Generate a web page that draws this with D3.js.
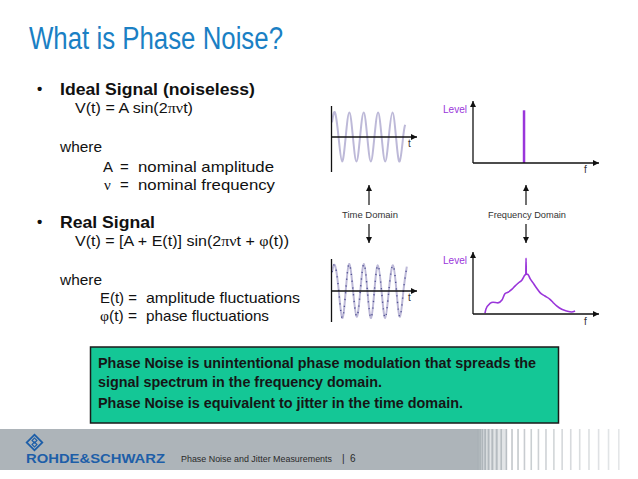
<!DOCTYPE html>
<html>
<head>
<meta charset="utf-8">
<script src="https://cdn.jsdelivr.net/npm/d3@7"></script>
<style>
  html, body { margin: 0; padding: 0; background: #fff; }
  svg { display: block; font-family: "Liberation Sans", Arial, sans-serif; }
</style>
</head>
<body>
<div id="wrapper"></div>
<script>
// 1. Data

// ideal signal: peaks, zero crossings and troughs, in units of amplitude
const idealWaveT = [0, 3.5, 7.7, 11.9, 16.1, 20.4, 24.6, 28.8, 33.0, 37.3, 41.5, 45.7, 49.9, 54.2, 58.4, 62.6, 66.8, 71.1, 75.3, 79.5, 83.7, 86];
const idealWaveV = [0.6, 1, 0, -1, 0, 1, 0, -1, 0, 1, 0, -1, 0, 1, 0, -1, 0, 1, 0, -1, 0, 0.5];

// real signal: same carrier with amplitude / phase wobble
const realWaveT = [0, 3.5, 7.8, 12, 16, 20, 24.5, 29, 33.3, 37.6, 41.8, 46, 50, 54, 58.3, 62.6, 67, 71.8, 76, 80, 84, 88];
const realWaveV = [0.7, 0.95, 0.05, -1, -0.05, 1.0, 0.1, -0.95, 0, 1.0, -0.05, -1.0, 0.05, 0.95, 0, -1.0, 0.05, 0.95, -0.05, -0.95, 0, 0.9];

// ideal spectrum: one line
const carrierFreq = [40.5];
const carrierLevel = [85];

// real spectrum: carrier plus noise skirt
const spectrumFreq = [9.5, 10.3, 13.5, 15.9, 19.8, 23, 25.4, 27.8, 31, 33.3, 35.7, 38.9, 41.3, 41.9, 42.1, 42.3, 43.9, 45.2, 47.9, 50.6, 53.2, 57.1, 61.1, 63.7, 66.4, 70.4, 74.4, 78.3, 81];
const spectrumLevel = [1.5, 8, 17, 19, 18, 22.5, 33, 35, 40, 45, 49.5, 55, 63, 64, 90, 65, 63, 57.5, 49.5, 41.5, 34.5, 29, 23.7, 18.2, 13, 7.6, 4.8, 3.2, 4.8];

// texts
const title = "What is Phase Noise?";
const boxLines = [
	"Phase Noise is unintentional phase modulation that spreads the",
	"signal spectrum in the frequency domain.",
	"Phase Noise is equivalent to jitter in the time domain."
];
const footerText = "Phase Noise and Jitter Measurements";
const pageNumber = "6";

// 2. Canvas

const width = 638;
const height = 479;

const svg = d3.select("#wrapper")
	.append("svg")
	.attr("width", width)
	.attr("height", height);

const defs = svg.append("defs");
defs.append("marker")
	.attr("id", "arrow")
	.attr("viewBox", "0 0 10 10")
	.attr("refX", 10)
	.attr("refY", 5)
	.attr("markerWidth", 7)
	.attr("markerHeight", 6)
	.attr("markerUnits", "userSpaceOnUse")
	.attr("orient", "auto")
	.append("path")
	.attr("d", "M0,0 L10,5 L0,10 z")
	.attr("fill", "#111");

// text helper: greek letters get a serif face
function addText(parent, x, y, str, opts = {}) {
	const t = parent.append("text")
		.attr("x", x)
		.attr("y", y)
		.attr("font-size", opts.size || 15)
		.attr("font-weight", opts.weight || "normal")
		.attr("fill", opts.fill || "#111");
	if (opts.family) t.attr("font-family", opts.family);
	if (opts.anchor) t.attr("text-anchor", opts.anchor);
	str.split(/([πνφ])/).filter(s => s.length).forEach(s => {
		const sp = t.append("tspan").text(s);
		if (/[πνφ]/.test(s)) sp.attr("font-family", "'Liberation Serif', 'DejaVu Serif', serif");
	});
	if (opts.len) t.attr("textLength", opts.len).attr("lengthAdjust", "spacingAndGlyphs");
	return t;
}

// 3. Title

addText(svg, 29, 49, title, {
	size: 31, fill: "#1a80c4", len: 254,
	family: "'Liberation Sans Narrow', 'Liberation Sans', Arial, sans-serif"
});

// 4. Left text

const left = svg.append("g");
addText(left, 37, 94, "•", { size: 15, weight: "bold" });
addText(left, 60, 95, "Ideal Signal (noiseless)", { size: 16.5, weight: "bold", len: 195 });
addText(left, 75, 113, "V(t) = A sin(2πνt)", { len: 118 });
addText(left, 60, 152, "where", { len: 42 });
addText(left, 103, 172, "A");
addText(left, 120, 172, "=");
addText(left, 138, 172, "nominal amplitude", { len: 136 });
addText(left, 104, 190, "ν", { family: "'Liberation Serif', serif" });
addText(left, 120, 190, "=");
addText(left, 138, 190, "nominal frequency", { len: 137 });
addText(left, 37, 227, "•", { size: 15, weight: "bold" });
addText(left, 60, 228, "Real Signal", { size: 16.5, weight: "bold", len: 95 });
addText(left, 75, 246, "V(t) = [A + E(t)] sin(2πνt + φ(t))", { len: 214 });
addText(left, 60, 285, "where", { len: 42 });
addText(left, 100, 303, "E(t) =", { len: 37 });
addText(left, 146, 303, "amplitude fluctuations", { len: 154 });
addText(left, 100, 321, "φ(t) =", { len: 37 });
addText(left, 146, 321, "phase fluctuations", { len: 123 });

// 5. Time domain plots

const timeX = d3.scaleLinear().domain([0, 100]).range([332, 417]);

const timePanels = [
	{ yc: 137, amp: 24.5, top: 106, bottom: 172, t: idealWaveT, v: idealWaveV, tY: 147, jitter: false },
	{ yc: 291, amp: 27, top: 259, bottom: 322, t: realWaveT, v: realWaveV, tY: 301, jitter: true }
];

timePanels.forEach(p => {
	const y = d3.scaleLinear().domain([-1, 1]).range([p.yc + p.amp, p.yc - p.amp]);
	const g = svg.append("g");
	const pts = p.t.map((t, i) => [t, p.v[i]]);
	const line = d3.line()
		.x(d => timeX(d[0]))
		.y(d => y(d[1]))
		.curve(d3.curveNatural);

	g.append("path")
		.attr("d", line(pts))
		.attr("fill", "none")
		.attr("stroke", "#bdb9d8")
		.attr("stroke-width", 2);

	if (p.jitter) {
		g.append("path")
			.attr("d", line(pts))
			.attr("fill", "none")
			.attr("stroke", "#3d3f86")
			.attr("stroke-width", 1.4)
			.attr("stroke-dasharray", "1.2 5.5")
			.attr("opacity", 0.85);
	}

	g.append("line")
		.attr("x1", timeX(0) - 0.5).attr("x2", timeX(0) - 0.5)
		.attr("y1", p.top).attr("y2", p.bottom)
		.attr("stroke", "#111").attr("stroke-width", 1.3);
	g.append("line")
		.attr("x1", timeX(0) - 0.5).attr("x2", timeX(100))
		.attr("y1", y(0)).attr("y2", y(0))
		.attr("stroke", "#111").attr("stroke-width", 1.3)
		.attr("marker-end", "url(#arrow)");
	addText(g, 408, p.tY, "t", { size: 10, fill: "#333" });
});

// 6. Frequency domain plots

const freqX = d3.scaleLinear().domain([0, 100]).range([473, 599]);

const freqPanels = [
	{ base: 163, freq: carrierFreq, level: carrierLevel, spike: true, levelY: 113, fY: 173 },
	{ base: 314, freq: spectrumFreq, level: spectrumLevel, spike: false, levelY: 264, fY: 325 }
];

freqPanels.forEach(p => {
	const y = d3.scaleLinear().domain([0, 100]).range([p.base, p.base - 62]);
	const g = svg.append("g");

	if (p.spike) {
		g.selectAll(".carrier")
			.data(p.freq)
			.enter()
			.append("line")
			.attr("class", "carrier")
			.attr("x1", d => freqX(d)).attr("x2", d => freqX(d))
			.attr("y1", y(0)).attr("y2", (d, i) => y(p.level[i]))
			.attr("stroke", "#9a36da")
			.attr("stroke-width", 2.5);
	} else {
		const pts = p.freq.map((f, i) => [f, p.level[i]]);
		g.append("path")
			.attr("d", d3.line()
				.x(d => freqX(d[0]))
				.y(d => y(d[1]))
				.curve(d3.curveMonotoneX)(pts))
			.attr("fill", "none")
			.attr("stroke", "#9a36da")
			.attr("stroke-width", 1.6);
	}

	g.append("line")
		.attr("x1", freqX(0)).attr("x2", freqX(0))
		.attr("y1", y(0)).attr("y2", y(100))
		.attr("stroke", "#111").attr("stroke-width", 1.3)
		.attr("marker-end", "url(#arrow)");
	g.append("line")
		.attr("x1", freqX(0)).attr("x2", freqX(100))
		.attr("y1", y(0)).attr("y2", y(0))
		.attr("stroke", "#111").attr("stroke-width", 1.3)
		.attr("marker-end", "url(#arrow)");
	addText(g, 443, p.levelY, "Level", { size: 10, fill: "#9a36da", len: 24 });
	addText(g, 584, p.fY, "f", { size: 10, fill: "#333" });
});

// 7. Domain arrows

[{ x: 369, label: "Time Domain", len: 56 }, { x: 526, label: "Frequency Domain", len: 78 }].forEach(d => {
	svg.append("line")
		.attr("x1", d.x).attr("x2", d.x).attr("y1", 205).attr("y2", 185)
		.attr("stroke", "#111").attr("stroke-width", 1.2)
		.attr("marker-end", "url(#arrow)");
	svg.append("line")
		.attr("x1", d.x).attr("x2", d.x).attr("y1", 224).attr("y2", 243)
		.attr("stroke", "#111").attr("stroke-width", 1.2)
		.attr("marker-end", "url(#arrow)");
	addText(svg, d.x + 1, 218, d.label, { size: 9.5, fill: "#333", anchor: "middle", len: d.len });
});

// 8. Green statement box

svg.append("rect")
	.attr("x", 90.5).attr("y", 347)
	.attr("width", 468).attr("height", 76)
	.attr("fill", "#14c796")
	.attr("stroke", "#1a1a1a")
	.attr("stroke-width", 1.5);

const boxY = [368, 387, 407.5];
const boxLen = [438, 284, 365];
boxLines.forEach((s, i) => {
	addText(svg, 98, boxY[i], s, { size: 15.5, weight: "bold", fill: "#161616", len: boxLen[i] });
});

// 9. Footer

const footer = svg.append("g");
footer.append("rect")
	.attr("x", 0).attr("y", 429)
	.attr("width", 477).attr("height", 41)
	.attr("fill", "#adb4b9");

const stripeCount = 24;
const stripePos = d3.scalePow().exponent(1.7).domain([0, stripeCount - 1]).range([477, 618]);
const stripeColor = d3.scaleLinear().domain([0, stripeCount - 1]).range(["#a9b0b5", "#e4e6e8"]);
footer.selectAll(".stripe")
	.data(d3.range(stripeCount))
	.enter()
	.append("rect")
	.attr("class", "stripe")
	.attr("x", d => stripePos(d))
	.attr("y", 429)
	.attr("width", d => d < 8 ? 2 : 1.6)
	.attr("height", 41)
	.attr("fill", d => stripeColor(d));
footer.append("rect")
	.attr("x", 477).attr("y", 429)
	.attr("width", 30).attr("height", 41)
	.attr("fill", "#adb4b9").attr("opacity", 0.35);

// logo mark
const logo = footer.append("g")
	.attr("transform", "translate(34.5,442.5) rotate(45)")
	.attr("fill", "none")
	.attr("stroke", "#1d5ea8");
logo.append("rect").attr("x", -5.5).attr("y", -5.5).attr("width", 11).attr("height", 11).attr("stroke-width", 1.8);
logo.append("rect").attr("x", -3.2).attr("y", -3.2).attr("width", 3.4).attr("height", 3.4).attr("stroke-width", 1.2);
logo.append("rect").attr("x", -0.2).attr("y", -0.2).attr("width", 3.4).attr("height", 3.4).attr("stroke-width", 1.2);

addText(footer, 26, 462.5, "ROHDE&SCHWARZ", { size: 12.5, weight: "bold", fill: "#1d5ea8", len: 139 });
addText(footer, 181, 461.5, footerText, { size: 8.8, fill: "#2a2a2a", len: 151 });
addText(footer, 342, 461.5, "|", { size: 10, fill: "#2a2a2a" });
addText(footer, 350, 461.5, pageNumber, { size: 10, fill: "#2a2a2a" });
</script>
</body>
</html>
